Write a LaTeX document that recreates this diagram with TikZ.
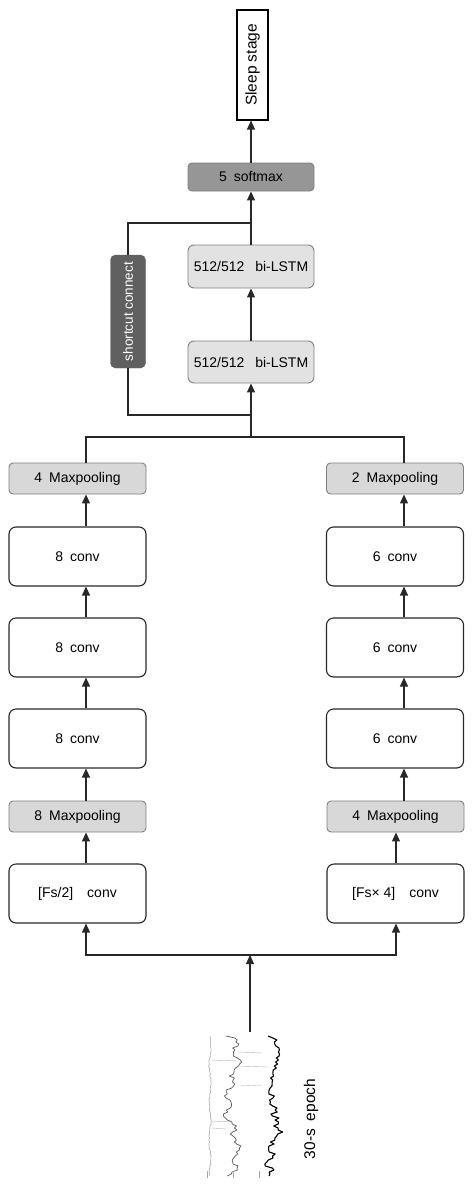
\documentclass[tikz,border=0pt]{standalone}
\usepackage{fontspec}
\setmainfont{Liberation Sans}
\usetikzlibrary{arrows.meta,calc,positioning}
\definecolor{slLine}{RGB}{40,40,40}
\definecolor{slEdge}{RGB}{128,128,128}
\definecolor{slPool}{RGB}{216,216,216}
\definecolor{slLstm}{RGB}{226,226,226}
\definecolor{slSoft}{RGB}{150,150,150}
\definecolor{slShort}{RGB}{96,96,96}
\newcommand{\boxfont}{\fontsize{14}{16}\selectfont}
\tikzset{
  convbox/.style={draw=slLine, fill=white, rounded corners=7pt, line width=1.1pt,
    minimum width=137pt, minimum height=59pt, inner sep=0pt, font=\boxfont},
  poolbox/.style={draw=slEdge, fill=slPool, rounded corners=4pt, line width=0.9pt,
    minimum width=137pt, minimum height=31pt, inner sep=0pt, font=\boxfont},
  lstmbox/.style={draw=slEdge, fill=slLstm, rounded corners=6pt, line width=0.9pt,
    minimum width=126pt, minimum height=43pt, inner sep=0pt, font=\boxfont},
  link/.style={draw=slLine, line width=1.2pt},
  arr/.style={link, -{Triangle[width=8pt,length=9pt]}},
  trace/.style={line width=0.7pt, line join=round}
}

\begin{document}
\begin{tikzpicture}[x=1pt,y=-1pt]
  \useasboundingbox (0,0) rectangle (474,1191);
  % output side
  \node[draw=black, line width=1.1pt, fill=white, minimum width=31pt, minimum height=110pt,
    inner sep=0pt, font=\fontsize{15.5}{17}\selectfont] (sleep) at (252.5,65) {\rotatebox{90}{Sleep stage}};
  \node[poolbox, fill=slSoft, minimum width=126pt, minimum height=28pt] (softmax) at (251,177) {5\enspace softmax};
  \node[lstmbox] (lstmtop) at (251,266.5) {512/512\enspace\ bi-LSTM};
  \node[lstmbox, minimum height=42pt] (lstmbot) at (251,362) {512/512\enspace\ bi-LSTM};
  \node[draw=slShort, fill=slShort, rounded corners=5pt, minimum width=35pt, minimum height=113pt,
    inner sep=0pt, text=white, font=\fontsize{13.5}{15}\selectfont] (short) at (128,311.5) {\rotatebox{90}{shortcut connect}};
  % two conv branches
  \node[poolbox] (poolL4) at (77.5,478.5) {4\enspace Maxpooling};
  \node[convbox] (convL3) at (77.5,556.5) {8\enspace conv};
  \node[convbox] (convL2) at (77.5,647.5) {8\enspace conv};
  \node[convbox] (convL1) at (77.5,738.5) {8\enspace conv};
  \node[poolbox] (poolL8) at (77.5,816.5) {8\enspace Maxpooling};
  \node[convbox] (convFsL) at (77.5,893.5) {[Fs/2]\quad conv};
  \node[poolbox] (poolR2) at (395,478.5) {2\enspace Maxpooling};
  \node[convbox] (convR3) at (395,556.5) {6\enspace conv};
  \node[convbox] (convR2) at (395,647.5) {6\enspace conv};
  \node[convbox] (convR1) at (395,738.5) {6\enspace conv};
  \node[poolbox] (poolR4) at (395.5,816.5) {4\enspace Maxpooling};
  \node[convbox] (convFsR) at (395.5,893.5) {[Fs× 4]\quad conv};
  \node[font=\fontsize{15.5}{17}\selectfont, inner sep=0pt] (epoch) at (311,1119) {\rotatebox{90}{30-s\enspace epoch}};
  \coordinate (lx) at (86,0);
  \coordinate (rx) at (404,0);
  \coordinate (rxlow) at (396,0);
  \coordinate (skipout) at (251,223);
  \coordinate (skipin) at (251,415);
  \coordinate (hub) at (251,437);
  \coordinate (fork) at (250,955);
  \coordinate (sig) at (250,1032);
  % connectors
  \draw[arr] (softmax.north) -- (softmax.north |- sleep.south);
  \draw[arr] (skipout) -- (softmax.south);
  \draw[link] (lstmtop.north) -- (skipout);
  \draw[arr] (lstmbot.north) -- (lstmtop.south);
  \draw[link] (short.north) |- (skipout);
  \draw[link] (short.south) |- (skipin);
  \draw[arr] (hub) -- (lstmbot.south);
  \draw[link] (poolL4.north -| lx) |- (hub) -| (poolR2.north -| rx);
  \draw[arr] (convL3.north -| lx) -- (poolL4.south -| lx);
  \draw[arr] (convL2.north -| lx) -- (convL3.south -| lx);
  \draw[arr] (convL1.north -| lx) -- (convL2.south -| lx);
  \draw[arr] (poolL8.north -| lx) -- (convL1.south -| lx);
  \draw[arr] (convFsL.north -| lx) -- (poolL8.south -| lx);
  \draw[arr] (convR3.north -| rx) -- (poolR2.south -| rx);
  \draw[arr] (convR2.north -| rx) -- (convR3.south -| rx);
  \draw[arr] (convR1.north -| rx) -- (convR2.south -| rx);
  \draw[arr] (poolR4.north -| rx) -- (convR1.south -| rx);
  \draw[arr] (convFsR.north -| rxlow) -- (poolR4.south -| rxlow);
  \draw[arr] (sig) -- (fork);
  \draw[arr] (fork) -| (convFsL.south -| lx);
  \draw[arr] (fork) -| (convFsR.south -| rxlow);
  % EEG epoch, drawn as three traces
  \pgfmathsetseed{11}
  \draw[trace, gray!80, line width=0.5pt] (210,1036)
    \foreach \i in {1,...,70}{ -- ({210+0.8*sin(\i*19)+0.7*rand}, {1036+2*\i}) };
  \draw[trace, gray!60, line width=0.4pt] (211,1060) -- (238,1061) (211,1122) -- (232,1121) (212,1128) -- (226,1129);
  \draw[trace, black!65] (226,1036)
    \foreach \i in {1,...,70}{ -- ({232+5*sin(\i*8)+3*sin(\i*34)+2.5*rand}, {1036+2*\i}) };
  \draw[trace, gray!60, line width=0.4pt] (238,1052) -- (262,1053) (236,1066) -- (268,1067) (240,1086) -- (262,1085);
  \draw[trace, black, line width=1.1pt] (268,1036)
    \foreach \i in {1,...,70}{ -- ({274+4*sin(\i*10)+(2+3.5*(\i>27))*rand}, {1036+2*\i}) };
  \foreach \tx in {207,233,259}{ \draw[gray!70, line width=0.6pt] (\tx,1171) -- (\tx,1178); }
\end{tikzpicture}
\end{document}
